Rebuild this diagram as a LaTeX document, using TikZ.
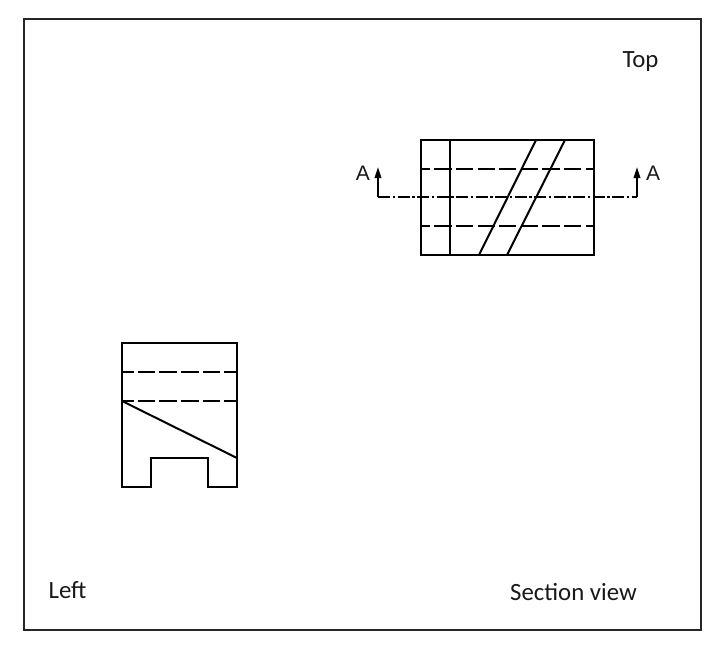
\documentclass[tikz,border=0pt]{standalone}
\usepackage{fontspec}
\setmainfont{Carlito}
\newfontfamily\arrowlabelfont{Liberation Sans}
\usetikzlibrary{arrows.meta}
\tikzset{
  x=1pt,y=-1pt,
  frameline/.style={draw=black!85,line width=1.8pt},
  objline/.style={draw=black,line width=2pt},
  hiddenleft/.style={draw=black,line width=2pt,dash pattern=on 17.7pt off 4pt,dash phase=6.2pt},
  hiddentop/.style={draw=black,line width=2pt,dash pattern=on 17.3pt off 4.3pt,dash phase=8.3pt},
  cutline/.style={draw=black,line width=1.5pt,dash pattern=on 12pt off 2.5pt on 2.5pt off 2.5pt},
  cutarrow/.style={draw=black,line width=2pt,-{Triangle[length=11pt,width=6.5pt]}},
  lbl/.style={inner sep=0pt,font=\fontsize{24.8}{28}\selectfont,text=black!90},
  arrowlbl/.style={inner sep=0pt,font=\arrowlabelfont\fontsize{21}{24}\selectfont,text=black!90}
}
\begin{document}
\begin{tikzpicture}
\useasboundingbox (0,0) rectangle (726,653);
\fill[white] (0,0) rectangle (726,653);
\draw[frameline] (24,19) rectangle (701,630);
% top view
\draw[objline] (421,140) rectangle (594,255);
\draw[objline] (450,140) -- (450,255);
\draw[objline] (536,140) -- (479,255);
\draw[objline] (565,140) -- (507,255);
\draw[hiddentop] (421,169) -- (594,169);
\draw[hiddentop] (421,226) -- (594,226);
\coordinate (cutL) at (378,197);
\coordinate (cutR) at (637,197);
\coordinate (tipL) at (378,167);
\coordinate (tipR) at (637,167);
\draw[cutline] (cutL) -- (cutR);
\draw[cutarrow] (cutL) -- (tipL);
\draw[cutarrow] (cutR) -- (tipR);
\node[arrowlbl] (aL) at (363,173) {A};
\node[arrowlbl] (aR) at (653,173) {A};
\node[lbl] (top) at (640.5,61.5) {Top};
% left view
\draw[objline] (122,343) -- (237,343) -- (237,487) -- (208,487) -- (208,458) -- (151,458) -- (151,487) -- (122,487) -- cycle;
\draw[hiddenleft] (122,372) -- (237,372);
\draw[hiddenleft] (122,401) -- (237,401);
\draw[objline] (122,401) -- (237,458);
\node[lbl] (left) at (67.5,590) {Left};
\node[lbl] (sec) at (573.5,592) {Section view};
\end{tikzpicture}
\end{document}
